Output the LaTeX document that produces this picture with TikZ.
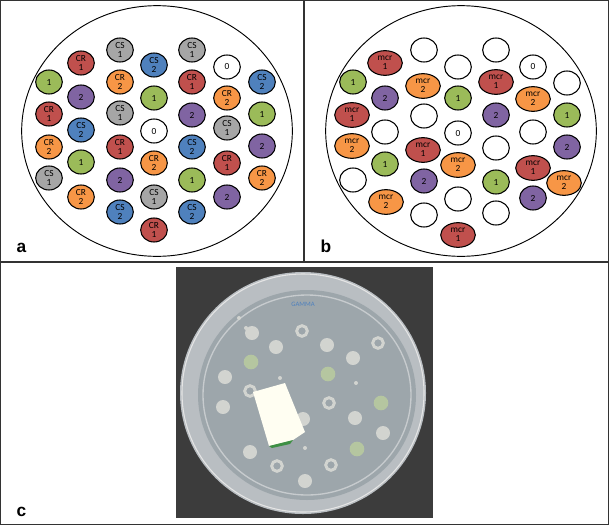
\documentclass[tikz,border=0pt]{standalone}
\usepackage{fontspec}
\setmainfont{Carlito}
\setsansfont{Liberation Sans}
\usetikzlibrary{shapes.geometric}
\definecolor{cR}{HTML}{C0504D}
\definecolor{cO}{HTML}{F79646}
\definecolor{cB}{HTML}{4F81BD}
\definecolor{cG}{HTML}{9BBB59}
\definecolor{cP}{HTML}{8064A2}
\definecolor{cS}{HTML}{A6A6A6}
\definecolor{cW}{HTML}{FFFFFF}
\definecolor{bg}{HTML}{3C3C3C}
\definecolor{rim}{HTML}{B9BEC2}
\definecolor{agar}{HTML}{9DA6AB}
\definecolor{colony}{HTML}{D2D4D0}
\definecolor{gcol}{HTML}{B5C6A0}
\tikzset{
  spot/.style={ellipse,draw=black,line width=0.8pt,minimum width=20pt,minimum height=18pt,inner sep=0pt,font=\fontsize{7}{7}\selectfont,align=center},
  wspot/.style={spot,minimum width=26pt,minimum height=18.5pt},
  plate/.style={draw=black,line width=0.7pt},
  lbl/.style={font=\sffamily\bfseries\fontsize{13}{13}\selectfont,anchor=base west},
  col/.style={circle,fill=colony,inner sep=0pt,minimum size=10.5pt},
  gcl/.style={circle,fill=gcol,inner sep=0pt,minimum size=11pt},
  ring/.style={circle,draw=colony,line width=2.2pt,inner sep=0pt,minimum size=8pt},
  dot/.style={circle,fill=colony,inner sep=0pt,minimum size=3pt}
}
\begin{document}
\begin{tikzpicture}[x=0.75pt,y=-0.75pt]
\useasboundingbox (0,0) rectangle (609,525);
\draw[line width=0.8pt,black!80] (0.5,0.5) rectangle (608.5,524.5);
\draw[line width=0.8pt,black!80] (304,0.5) -- (304,262) (0.5,262) -- (608.5,262);
% panel a
\node[plate,ellipse,minimum width=203pt,minimum height=188pt] (pa) at (157,131) {};
\foreach \x/\y/\c/\t [count=\i] in {
 49/82/cG/1, 49/114/cR/{CR\\1}, 49/147/cO/{CR\\2}, 49/178/cS/{CS\\1},
 81/63/cR/{CR\\1}, 81/97/cP/2, 81/130/cB/{CS\\2}, 81/162/cG/1, 81/197/cO/{CR\\2},
 120/50/cS/{CS\\1}, 120/82/cO/{CR\\2}, 120/113/cS/{CS\\1}, 120/147/cR/{CR\\1}, 120/180/cP/2, 120/212/cB/{CS\\2},
 154/65/cB/{CS\\2}, 154/98/cG/1, 154/131/cW/0, 154/163/cO/{CR\\2}, 154/197/cS/{CS\\1}, 154/230/cR/{CR\\1},
 192/50/cS/{CS\\1}, 192/82/cR/{CR\\1}, 192/115/cP/2, 192/147/cB/{CS\\2}, 192/180/cG/1, 192/212/cB/{CS\\2},
 227/67/cW/0, 227/98/cO/{CR\\2}, 227/128/cS/{CS\\1}, 227/163/cR/{CR\\1}, 227/197/cP/2,
 262/82/cB/{CS\\2}, 262/114/cG/1, 262/146/cP/2, 262/178/cO/{CR\\2}}
 \node[spot,fill=\c] (sa\i) at (\x,\y) {\t};
\node[lbl] (la) at (12,252) {a};
% panel b
\node[plate,ellipse,minimum width=203pt,minimum height=188pt] (pb) at (461,131) {};
\foreach \x/\y/\s/\c/\t [count=\i] in {
 353/82/spot/cG/1, 352/115/wspot/cR/{mcr\\1}, 352/146/wspot/cO/{mcr\\2}, 353/180/spot/cW/{},
 385/63/wspot/cR/{mcr\\1}, 385/98/spot/cP/2, 385/132/spot/cW/{}, 385/164/spot/cG/1, 386/202/wspot/cO/{mcr\\2},
 424/50/spot/cW/{}, 423/86/wspot/cO/{mcr\\2}, 424/116/spot/cW/{}, 423/150/wspot/cR/{mcr\\1}, 424/181/spot/cP/2, 424/215/spot/cW/{},
 458/67/spot/cW/{}, 458/98/spot/cG/1, 458/133/spot/cW/0, 458/165/wspot/cO/{mcr\\2}, 458/199/spot/cW/{}, 458/235/wspot/cR/{mcr\\1},
 496/50/spot/cW/{}, 496/82/wspot/cR/{mcr\\1}, 496/115/spot/cP/2, 496/148/spot/cW/{}, 496/182/spot/cG/1, 496/213/spot/cW/{},
 533/67/spot/cW/0, 533/99/wspot/cO/{mcr\\2}, 533/132/spot/cW/{}, 533/168/wspot/cR/{mcr\\1}, 533/198/spot/cP/2,
 567/83/spot/cW/{}, 567/115/spot/cG/1, 567/147/spot/cP/2, 564/183/wspot/cO/{mcr\\2}}
 \node[\s,fill=\c] (sb\i) at (\x,\y) {\t};
\node[lbl] (lb) at (316,252) {b};
% panel c photo
\fill[bg] (176,267) rectangle (433,518);
\fill[rim] (303,393) ellipse [x radius=123, y radius=121];
\draw[white!80!gray,line width=0.8pt] (303,393) ellipse [x radius=121, y radius=119];
\fill[agar] (307,395) ellipse [x radius=109, y radius=105];
\draw[rim!80!white,line width=1pt] (307,395) ellipse [x radius=104, y radius=100];
\node[font=\fontsize{5}{5}\selectfont,text=cB] (brand) at (303,304) {GAMMA};
\foreach \x/\y [count=\i] in {252/333,276/347,327/345,353/358,225/377,223/407,355/418,383/433,250/452,305/481,303/419}
 \node[col] (k\i) at (\x,\y) {};
\foreach \x/\y [count=\i] in {251/362,328/374,381/403,357/449}
 \node[gcl] (g\i) at (\x,\y) {};
\foreach \x/\y [count=\i] in {302/331,378/343,250/391,329/403,277/466,331/465}
 \node[ring] (r\i) at (\x,\y) {};
\foreach \x/\y [count=\i] in {239/318,246/328,280/378,356/383,305/448}
 \node[dot] (d\i) at (\x,\y) {};
\fill[white!95!yellow] (253,392) -- (285,383) -- (298,415) -- (305,432) -- (293,440) -- (269,446) -- cycle;
\fill[green!50!black,opacity=0.6] (269,446) -- (293,440) -- (290,444) -- (272,448) -- cycle;
\node[lbl] (lc) at (12,516) {c};
\end{tikzpicture}
\end{document}
